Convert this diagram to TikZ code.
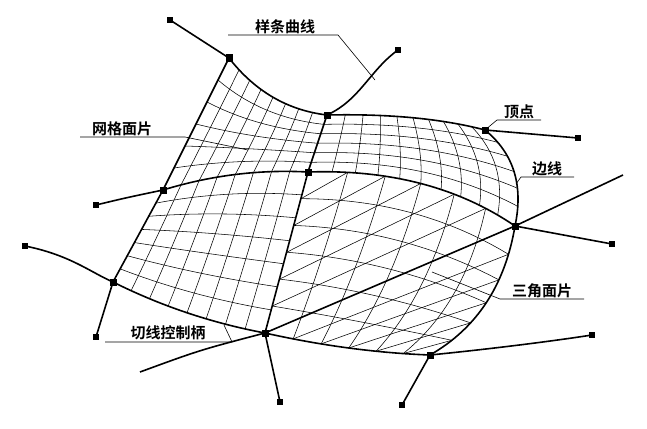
\documentclass[tikz,border=0pt]{standalone}
\usepackage{fontspec}
\newfontfamily\cjk{Noto Sans CJK SC Bold}
\usetikzlibrary{calc}
\tikzset{
  edge/.style={line width=1.6pt},
  gridl/.style={line width=0.55pt},
  lead/.style={line width=0.6pt},
  sq/.style={fill=black,minimum size=6pt,inner sep=0pt,outer sep=0pt,rectangle},
  lab/.style={font=\cjk\fontsize{15}{15}\selectfont,inner sep=1pt}
}
\newcommand\qc[3]{ .. controls ($(#1)!0.6667!(#2)$) and ($(#3)!0.6667!(#2)$) .. (#3)}
\newcommand\qpt[5]{\coordinate (#5) at ($ ($(#1)!#4!(#2)$)!#4!($(#2)!#4!(#3)$) $);}
\newcommand\gridpatch[2]{%
  \foreach \k in {1,...,#1}{%
    \pgfmathsetmacro\t{\k/(#1+1)}%
    \qpt{p00}{ct}{p10}{\t}{gs}\qpt{p01}{cb}{p11}{\t}{ge}%
    \coordinate (gc) at ($(cl)!\t!(cr)$);
    \draw[gridl] (gs)\qc{gs}{gc}{ge};
  }
  \foreach \k in {1,...,#2}{%
    \pgfmathsetmacro\t{\k/(#2+1)}%
    \qpt{p00}{cl}{p01}{\t}{gs}\qpt{p10}{cr}{p11}{\t}{ge}%
    \coordinate (gc) at ($(ct)!\t!(cb)$);
    \draw[gridl] (gs)\qc{gs}{gc}{ge};
  }
}
\begin{document}
\begin{tikzpicture}[x=1pt,y=-1pt]
\useasboundingbox (0,0) rectangle (647,428);
\coordinate (A) at (229,58);
\coordinate (B) at (327,115);
\coordinate (C) at (485,130);
\coordinate (D) at (163,190);
\coordinate (E) at (308,172);
\coordinate (F) at (515,226);
\coordinate (G) at (113,282);
\coordinate (H) at (265,333);
\coordinate (I) at (430,355);
\coordinate (cAB) at (268,108);
\coordinate (cBC) at (420,113);
\coordinate (cCF) at (528,165);
\coordinate (cDE) at (235,168);
\coordinate (cEF) at (430,168);
\coordinate (cGH) at (185,318);
\coordinate (cHI) at (350,352);
\coordinate (cIF) at (500,315);
\coordinate (cAD) at (196,124);
\coordinate (cDG) at (138,236);
\coordinate (cBE) at (318,143);
\coordinate (cEH) at (287,252);
\begin{scope}
\coordinate (p00) at (A);\coordinate (ct) at (cAB);\coordinate (p10) at (B);
\coordinate (cl) at (cAD);\coordinate (cr) at (cBE);
\coordinate (p01) at (D);\coordinate (cb) at (cDE);\coordinate (p11) at (E);
\gridpatch{7}{5}
\end{scope}
\begin{scope}
\coordinate (p00) at (B);\coordinate (ct) at (cBC);\coordinate (p10) at (C);
\coordinate (cl) at (cBE);\coordinate (cr) at (cCF);
\coordinate (p01) at (E);\coordinate (cb) at (cEF);\coordinate (p11) at (F);
\gridpatch{9}{5}
\end{scope}
\begin{scope}
\coordinate (p00) at (D);\coordinate (ct) at (cDE);\coordinate (p10) at (E);
\coordinate (cl) at (cDG);\coordinate (cr) at (cEH);
\coordinate (p01) at (G);\coordinate (cb) at (cGH);\coordinate (p11) at (H);
\gridpatch{7}{6}
\end{scope}
\begin{scope}
\coordinate (p00) at (E);\coordinate (ct) at (cEF);\coordinate (p10) at (F);
\coordinate (cl) at (cEH);\coordinate (cr) at (cIF);
\coordinate (p01) at (H);\coordinate (cb) at (cHI);\coordinate (p11) at (I);
\gridpatch{5}{5}
\foreach \k in {1,...,5}{%
  \pgfmathsetmacro\t{\k/6}%
  \qpt{E}{cEH}{H}{\t}{ds}\qpt{E}{cEF}{F}{\t}{de}%
  \draw[gridl] (ds) -- (de);
  \qpt{H}{cHI}{I}{\t}{ds}\qpt{F}{cIF}{I}{\t}{de}%
  \draw[gridl] (ds) -- (de);
}
\end{scope}
\node[sq] (hA) at (170,20) {};
\node[sq] (hB) at (398,50) {};
\node[sq] (hC) at (578,138) {};
\node[sq] (hD) at (96,205) {};
\node[sq] (hF) at (612,244) {};
\node[sq] (hG1) at (25,246) {};
\node[sq] (hG2) at (96,337) {};
\node[sq] (hH) at (280,402) {};
\node[sq] (hI1) at (402,405) {};
\node[sq] (hI2) at (592,335) {};
\coordinate (dF) at (623,175);
\coordinate (dH) at (140,372);
\draw[edge] (A)\qc{A}{cAB}{B}\qc{B}{cBC}{C}\qc{C}{cCF}{F};
\draw[edge] (hD.center) .. controls (125,198) .. (D) \qc{D}{cDE}{E}\qc{E}{cEF}{F} -- (hF.center);
\draw[edge] (hG1.center) .. controls (70,255) and (90,272) .. (G)\qc{G}{cGH}{H}\qc{H}{cHI}{I} .. controls (500,348) and (560,340) .. (hI2.center);
\draw[edge] (I)\qc{I}{cIF}{F};
\draw[edge] (hA.center) -- (A) -- (D) -- (G) -- (hG2.center);
\draw[edge] (hB.center) .. controls (370,70) and (360,100) .. (B) -- (E) -- (H) -- (hH.center);
\draw[edge] (dH) .. controls (200,350) .. (H) -- (F) -- (dF);
\draw[edge] (C) -- (hC.center);
\draw[edge] (I) -- (hI1.center);
\foreach \v in {A,B,C,D,E,F,G,H,I}{\node[sq,minimum size=7pt] (v\v) at (\v) {};}
\node[lab,anchor=south] (l1) at (285,35) {样条曲线};
\draw[lead] (228,35) -- (338,35) -- (375,80);
\node[lab,anchor=south] (l2) at (122,137) {网格面片};
\draw[lead] (80,137) -- (185,137) -- (248,150);
\node[lab,anchor=south] (l3) at (519,120) {顶点};
\draw[lead] (vC) -- (497,120) -- (541,120);
\node[lab,anchor=south] (l4) at (547,177) {边线};
\draw[lead] (516,184) -- (521,177) -- (574,177);
\node[lab,anchor=south] (l5) at (542,299) {三角面片};
\draw[lead] (432,272) -- (500,299) -- (584,299);
\node[lab,anchor=south] (l6) at (168,341) {切线控制柄};
\draw[lead] (105,342) -- (232,342) -- (224,325);
\end{tikzpicture}
\end{document}
